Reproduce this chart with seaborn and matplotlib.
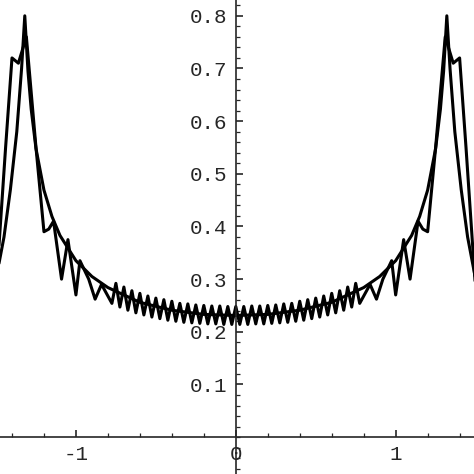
import matplotlib
matplotlib.use("Agg")
import matplotlib.pyplot as plt
import numpy as np
import seaborn as sns
from matplotlib.ticker import MultipleLocator

# Right half of each curve (mirrored to the left)
smooth_x = [0.0, 0.2, 0.4, 0.6, 0.8, 0.9, 1.0, 1.1, 1.15, 1.2, 1.25, 1.28, 1.30, 1.32,
            1.34, 1.37, 1.41, 1.45, 1.50]
smooth_y = [0.231, 0.233, 0.241, 0.256, 0.284, 0.305, 0.335, 0.383, 0.419, 0.469, 0.548,
            0.623, 0.695, 0.80, 0.70, 0.58, 0.47, 0.38, 0.30]

peak_x = [0.0, 0.05, 0.10, 0.15, 0.20, 0.25, 0.30, 0.35, 0.40, 0.45, 0.50, 0.55, 0.60,
          0.65, 0.70, 0.75]
peak_y = [0.248, 0.248, 0.249, 0.249, 0.250, 0.251, 0.253, 0.254, 0.258, 0.261, 0.264,
          0.268, 0.273, 0.278, 0.285, 0.292]
trough_x = [0.025, 0.075, 0.125, 0.175, 0.225, 0.275, 0.325, 0.375, 0.425, 0.475, 0.525,
            0.575, 0.625, 0.675, 0.725, 0.775]
trough_y = [0.214, 0.214, 0.215, 0.215, 0.216, 0.217, 0.218, 0.220, 0.222, 0.225, 0.228,
            0.232, 0.236, 0.241, 0.247, 0.254]
outer_x = [0.84, 0.88, 0.92, 0.975, 1.0, 1.05, 1.09, 1.14, 1.17, 1.20, 1.25, 1.31, 1.36,
           1.40, 1.44, 1.50]
outer_y = [0.290, 0.262, 0.300, 0.335, 0.270, 0.375, 0.300, 0.410, 0.395, 0.390, 0.550,
           0.760, 0.710, 0.720, 0.550, 0.280]

y_ticks = [0.1, 0.2, 0.3, 0.4, 0.5, 0.6, 0.7, 0.8]
x_ticks = [-1, 0, 1]


def mirror(x, y):
    x = np.asarray(x)
    y = np.asarray(y)
    return np.concatenate([-x[::-1], x[1:]]), np.concatenate([y[::-1], y[1:]])


osc_x = np.array(peak_x + trough_x + outer_x)
osc_y = np.array(peak_y + trough_y + outer_y)
order = np.argsort(osc_x)
ox, oy = mirror(osc_x[order], osc_y[order])
sx, sy = mirror(smooth_x, smooth_y)

sns.set_style("white")
fig = plt.figure(figsize=(4.74, 4.74), dpi=100)
ax = fig.add_axes([0, 0, 1, 1])

sns.lineplot(x=sx, y=sy, ax=ax, color="black", lw=2.2, sort=False)
sns.lineplot(x=ox, y=oy, ax=ax, color="black", lw=2.2, sort=False)

ax.set_xlim(-1.475, 1.49)
ax.set_ylim(-0.07, 0.83)
for side in ["top", "right"]:
    ax.spines[side].set_visible(False)
ax.spines["left"].set_position(("data", 0))
ax.spines["bottom"].set_position(("data", 0))
ax.spines["left"].set_linewidth(1.2)
ax.spines["bottom"].set_linewidth(1.2)

ax.set_xticks(x_ticks)
ax.set_xticklabels(["-1", "0", "1"])
ax.set_yticks(y_ticks)
ax.set_yticklabels([f"{v:.1f}" for v in y_ticks])
ax.xaxis.set_minor_locator(MultipleLocator(0.2))
ax.yaxis.set_minor_locator(MultipleLocator(0.02))
ax.tick_params(which="major", direction="in", length=5, width=1.2, labelsize=15,
               left=True, bottom=True, pad=6)
ax.tick_params(which="minor", direction="in", length=3, width=0.9, left=True, bottom=True)
for lab in ax.get_xticklabels() + ax.get_yticklabels():
    lab.set_family("Liberation Mono")

fig.savefig("out.png", dpi=100)
